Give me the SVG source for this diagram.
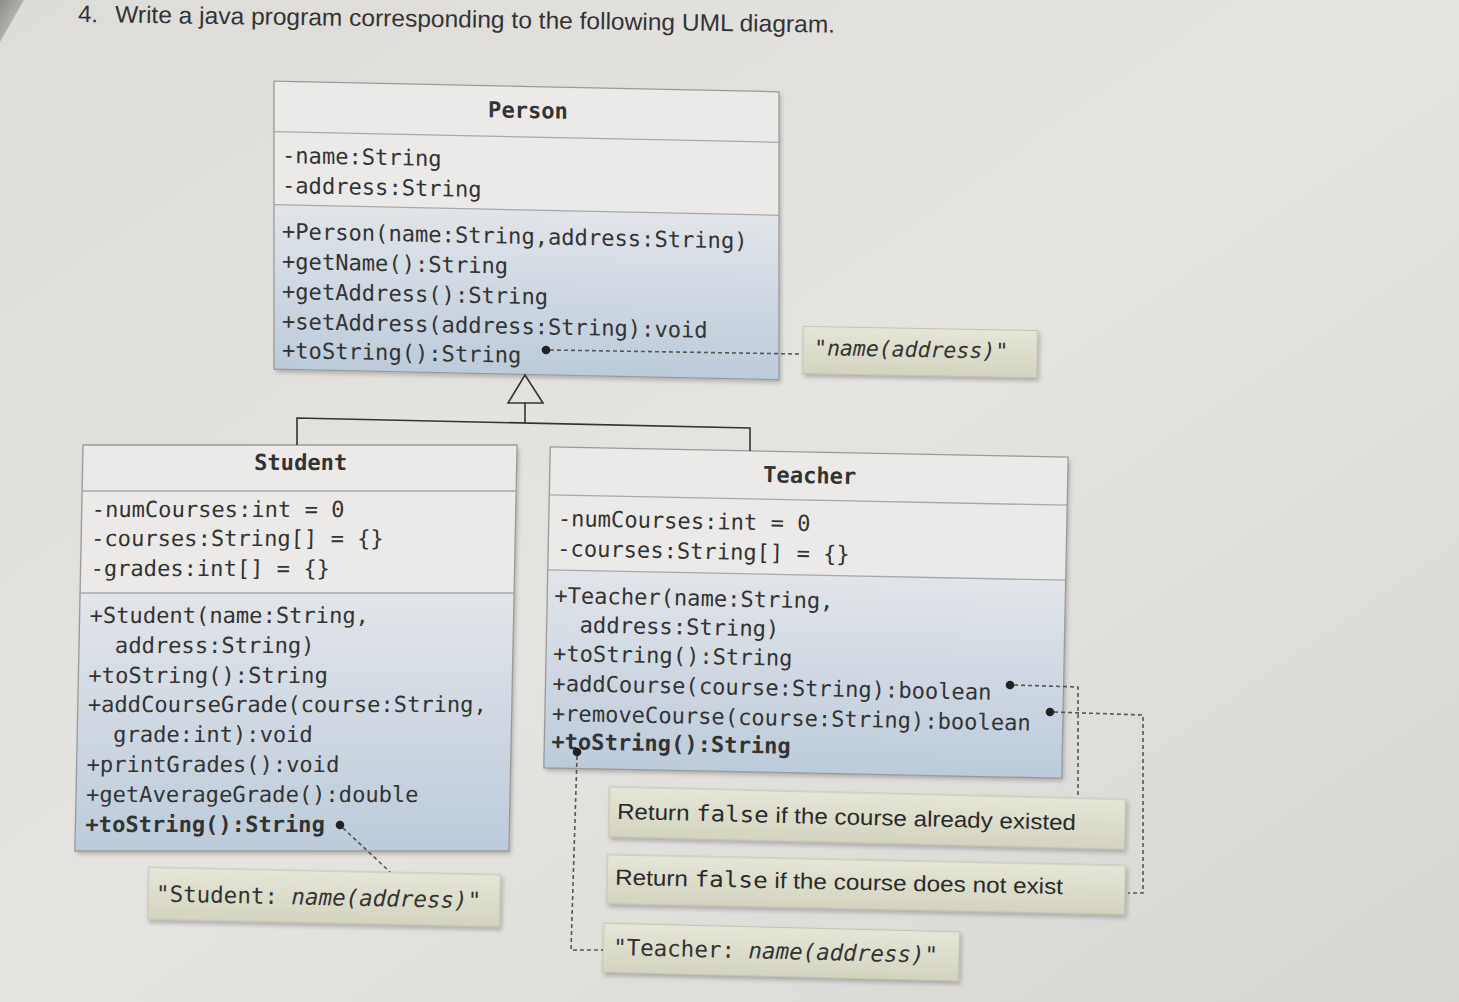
<svg xmlns="http://www.w3.org/2000/svg" width="1459" height="1002" viewBox="0 0 1459 1002">
<defs>
<linearGradient id="page" x1="0" y1="0" x2="1" y2="1">
<stop offset="0" stop-color="#dedcd9"/><stop offset="0.5" stop-color="#e6e4e1"/><stop offset="1" stop-color="#d8d6d3"/>
</linearGradient>
<linearGradient id="methg" x1="0" y1="0" x2="0" y2="1">
<stop offset="0" stop-color="#e2e5e9"/><stop offset="1" stop-color="#bccbdb"/>
</linearGradient>
<linearGradient id="noteg" x1="0" y1="0" x2="0" y2="1">
<stop offset="0" stop-color="#e6e6d8"/><stop offset="1" stop-color="#d3d4bf"/>
</linearGradient>
<linearGradient id="corner" x1="0" y1="0" x2="1" y2="1">
<stop offset="0" stop-color="#8f8d8a"/><stop offset="1" stop-color="#d6d4d1"/>
</linearGradient>
<filter id="sh" x="-5%" y="-5%" width="115%" height="120%">
<feDropShadow dx="2" dy="3" stdDeviation="2" flood-color="#707070" flood-opacity="0.45"/>
</filter>
<style>
.bg{fill:#ebeae8;filter:url(#sh)}
.hdr{fill:#ebeae8}
.meth{fill:url(#methg)}
.box{fill:none;stroke:#9a9a9a;stroke-width:1.3}
.div{stroke:#a8a8a8;stroke-width:1.3}
.m{font-family:"DejaVu Sans Mono","Liberation Mono",monospace;font-size:22.1px;fill:#333}
.b{font-weight:bold}
.c{text-anchor:middle}
.note{fill:url(#noteg);stroke:#c4c4b0;stroke-width:1;filter:url(#sh)}
.s{font-family:"Liberation Sans",Arial,sans-serif;font-size:22px;fill:#2a2a2a}
.nm{font-family:"DejaVu Sans Mono","Liberation Mono",monospace}
.i{font-style:italic}
.title{font-family:"Liberation Sans",Arial,sans-serif;font-size:24px;fill:#333}
.ln{fill:none;stroke:#333;stroke-width:1.6}
.tri{fill:#e4e2df;stroke:#333;stroke-width:1.6}
.dash{fill:none;stroke:#555;stroke-width:1.6;stroke-dasharray:4 3}
.dot{fill:#222}
</style>
</defs>

<rect x="0" y="0" width="1459" height="1002" fill="url(#page)"/>
<polygon points="0,0 24,0 0,42" fill="url(#corner)"/>

<g id="title" transform="rotate(0.8 78 22)">
<text x="78" y="22" class="title">4.</text>
<text x="115" y="22" class="title" textLength="720" lengthAdjust="spacingAndGlyphs">Write a java program corresponding to the following UML diagram.</text>
</g>

<g id="person" transform="translate(527 230) skewY(1.2) translate(-527 -230)">
<rect x="274" y="86.5" width="505" height="288" class="bg"/>
<rect x="274" y="86.5" width="505" height="123.5" class="hdr"/>
<rect x="274" y="210" width="505" height="164.5" class="meth"/>
<rect x="274" y="86.5" width="505" height="288" class="box"/>
<line x1="274" y1="137" x2="779" y2="137" class="div"/>
<line x1="274" y1="210" x2="779" y2="210" class="div"/>
<text x="528" y="118" class="m b c">Person</text>
<text x="282" y="168" class="m">-name:String</text>
<text x="282" y="198" class="m">-address:String</text>
<text x="282" y="244" class="m">+Person(name:String,address:String)</text>
<text x="282" y="274" class="m">+getName():String</text>
<text x="282" y="304" class="m">+getAddress():String</text>
<text x="282" y="334" class="m">+setAddress(address:String):void</text>
<text x="282" y="363" class="m">+toString():String</text>
</g>

<g id="student" transform="translate(296 647) skewX(-1.15) translate(-296 -647)">
<rect x="79" y="445" width="434" height="406" class="bg"/>
<rect x="79" y="445" width="434" height="148" class="hdr"/>
<rect x="79" y="593" width="434" height="258" class="meth"/>
<rect x="79" y="445" width="434" height="406" class="box"/>
<line x1="79" y1="491" x2="513" y2="491" class="div"/>
<line x1="79" y1="593" x2="513" y2="593" class="div"/>
<text x="297" y="470" class="m b c">Student</text>
<text x="89" y="517" class="m">-numCourses:int = 0</text>
<text x="89" y="546.5" class="m">-courses:String[] = {}</text>
<text x="89" y="576" class="m">-grades:int[] = {}</text>
<text x="89" y="623" class="m">+Student(name:String,</text>
<text x="115" y="652.8" class="m">address:String)</text>
<text x="89" y="682.6" class="m">+toString():String</text>
<text x="89" y="712.4" class="m">+addCourseGrade(course:String,</text>
<text x="115" y="742.2" class="m">grade:int):void</text>
<text x="89" y="772" class="m">+printGrades():void</text>
<text x="89" y="801.8" class="m">+getAverageGrade():double</text>
<text x="89" y="831.6" class="m b">+toString():String</text>
</g>

<g id="teacher" transform="rotate(1.15 806 612)">
<rect x="547" y="452" width="518" height="321" class="bg"/>
<rect x="547" y="452" width="518" height="123" class="hdr"/>
<rect x="547" y="575" width="518" height="198" class="meth"/>
<rect x="547" y="452" width="518" height="321" class="box"/>
<line x1="547" y1="500" x2="1065" y2="500" class="div"/>
<line x1="547" y1="575" x2="1065" y2="575" class="div"/>
<text x="807" y="483" class="m b c">Teacher</text>
<text x="556" y="531" class="m">-numCourses:int = 0</text>
<text x="556" y="561" class="m">-courses:String[] = {}</text>
<text x="554" y="608" class="m">+Teacher(name:String,</text>
<text x="580" y="637" class="m">address:String)</text>
<text x="554" y="666" class="m">+toString():String</text>
<text x="554" y="696" class="m">+addCourse(course:String):boolean</text>
<text x="554" y="726" class="m">+removeCourse(course:String):boolean</text>
<text x="554" y="754" class="m b">+toString():String</text>
</g>

<g id="note-person" transform="rotate(1 920 352)">
<rect x="803" y="328.5" width="234" height="47" class="note"/>
<text x="814" y="357" class="m" style="font-size:21.5px">"<tspan class="i">name(address)</tspan>"</text>
</g>

<g id="note-student" transform="rotate(1.2 324 897)">
<rect x="148" y="871" width="352" height="52" class="note"/>
<text x="156" y="905" class="m" style="font-size:22.5px">"Student: <tspan class="i">name(address)</tspan>"</text>
</g>

<g id="note-add" transform="rotate(1.4 867 818)">
<rect x="609" y="793" width="516" height="50" class="note"/>
<text x="617" y="825" class="s" textLength="459" lengthAdjust="spacingAndGlyphs">Return <tspan class="nm">false</tspan> if the course already existed</text>
</g>

<g id="note-remove" transform="rotate(1.2 866 884)">
<rect x="607" y="860" width="518" height="49" class="note"/>
<text x="615" y="890" class="s" textLength="448" lengthAdjust="spacingAndGlyphs">Return <tspan class="nm">false</tspan> if the course does not exist</text>
</g>

<g id="note-teacher" transform="rotate(1.4 781 952)">
<rect x="603" y="927.5" width="356" height="49" class="note"/>
<text x="613" y="959" class="m" style="font-size:22.5px">"Teacher: <tspan class="i">name(address)</tspan>"</text>
</g>

<g id="connectors">
<polygon points="525,375 508,403 543,403" class="tri"/>
<line x1="525" y1="403" x2="525" y2="423" class="ln"/>
<polyline points="297,445 297,418 750,428 750,451" class="ln"/>
<line x1="550" y1="350" x2="800" y2="354" class="dash"/>
<circle cx="546" cy="350" r="4.3" class="dot"/>
<line x1="343" y1="828" x2="390" y2="872" class="dash"/>
<circle cx="340" cy="825" r="4.3" class="dot"/>
<polyline points="1014,685 1078,687 1078,797" class="dash"/>
<circle cx="1010" cy="685" r="4.3" class="dot"/>
<polyline points="1054,712 1143,715 1143,893 1128,893" class="dash"/>
<circle cx="1050" cy="712" r="4.3" class="dot"/>
<polyline points="577,756 571,950 603,950" class="dash"/>
<circle cx="577" cy="752" r="4.3" class="dot"/>
</g>
</svg>
